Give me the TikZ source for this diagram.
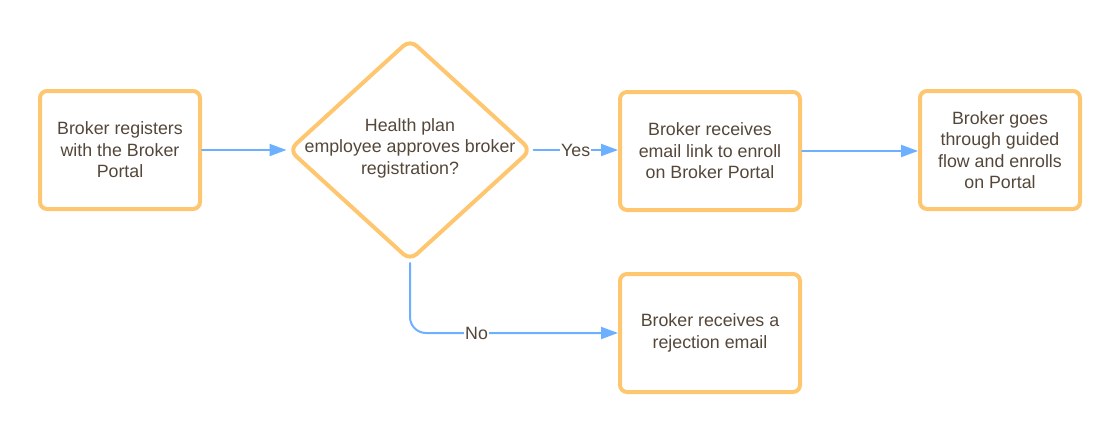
\documentclass[tikz,border=0pt]{standalone}
\usepackage{fontspec}
\setmainfont{Liberation Sans}
\usetikzlibrary{shapes.geometric,arrows.meta}
\definecolor{boxorange}{HTML}{FFC670}
\definecolor{flowblue}{HTML}{6DB0FF}
\definecolor{textbrown}{HTML}{54473A}
\begin{document}
\begin{tikzpicture}[x=1pt, y=-1pt, font=\fontsize{17.8}{21.5}\selectfont, line join=round, line cap=round,
		stepbox/.style={draw=boxorange, line width=4pt, rounded corners=7pt, minimum width=160pt, minimum height=118pt, align=center, text=textbrown},
		widebox/.style={stepbox, minimum width=180pt},
		decision/.style={diamond, draw=boxorange, line width=4pt, rounded corners=9pt, minimum width=243pt, minimum height=222pt, inner sep=0pt},
		flow/.style={draw=flowblue, line width=2pt, -{Triangle[length=17pt,width=12pt]}},
		tag/.style={fill=white, text=textbrown, inner sep=1pt}]
		\useasboundingbox (0,0) rectangle (1120,434);
		\node[stepbox] (reg) at (120,150) {Broker registers\\with the Broker\\Portal};
		\node[decision] (check) at (410,150) {};
		\node[align=center, text=textbrown] (checktext) at (410,148) {Health plan\\employee approves broker\\registration?};
		\node[widebox] (link) at (710,151) {Broker receives\\email link to enroll\\on Broker Portal};
		\node[stepbox] (enroll) at (1000,150) {Broker goes\\through guided\\flow and enrolls\\on Portal};
		\node[widebox] (reject) at (710,333) {Broker receives a\\rejection email};
		\draw[flow] (reg) -- (check);
		\draw[flow] (check.east) -- node[tag] {Yes} (link.west |- check.east);
		\draw[flow] (link.east) -- (enroll.west |- link.east);
		\draw[flow, rounded corners=16pt] (check.south) |- node[tag, pos=0.66] {No} (reject.west);
\end{tikzpicture}
\end{document}
